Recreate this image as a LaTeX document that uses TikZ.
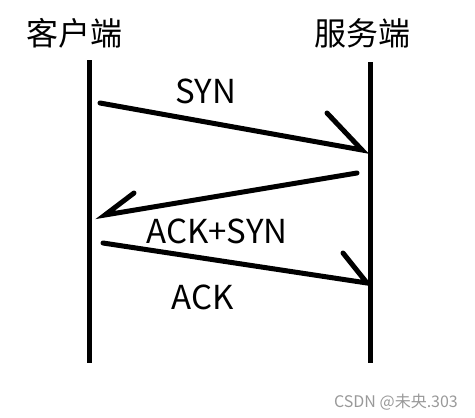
\documentclass[tikz,border=0pt]{standalone}
\usepackage{fontspec}
\setmainfont{Noto Sans CJK SC}
\newfontfamily\cjk{Noto Sans CJK SC}
\begin{document}
\begin{tikzpicture}[x=1pt,y=-1pt,
  life/.style={line width=5pt},
  msg/.style={line width=5pt,line cap=round},
  title/.style={font=\cjk\fontsize{32}{32}\selectfont,text=black,inner sep=0pt},
  lbl/.style={font=\cjk\fontsize{33}{33}\selectfont,text=black,inner sep=0pt},
  wm/.style={font=\cjk\fontsize{16}{16}\selectfont,text=black!40,inner sep=0pt}]
\useasboundingbox (0,0) rectangle (475,418);
\node[title] (client) at (75,33) {客户端};
\node[title] (server) at (362,33) {服务端};
\coordinate (ctop) at (89,60);
\coordinate (cbot) at (89,363);
\coordinate (stop) at (370,62);
\coordinate (sbot) at (370,363);
\draw[life] (ctop) -- (cbot);
\draw[life] (stop) -- (sbot);
% SYN
\coordinate (a1s) at (100,103);
\coordinate (a1e) at (362,150);
\coordinate (a1b) at (327,113);
\draw[msg] (a1s) -- (a1e) -- (a1b);
\node[lbl] (syn) at (206,91) {SYN};
% ACK+SYN
\coordinate (a2s) at (357,173);
\coordinate (a2e) at (105,215);
\coordinate (a2b) at (134,193);
\draw[msg] (a2s) -- (a2e) -- (a2b);
\node[lbl] (acksyn) at (217,231) {ACK+SYN};
% ACK
\coordinate (a3s) at (103,243);
\coordinate (a3e) at (367,283);
\coordinate (a3b) at (343,253);
\draw[msg] (a3s) -- (a3e) -- (a3b);
\node[lbl] (ack) at (203,297) {ACK};
\node[wm] (mark) at (396,402) {CSDN @未央.303};
\end{tikzpicture}
\end{document}
